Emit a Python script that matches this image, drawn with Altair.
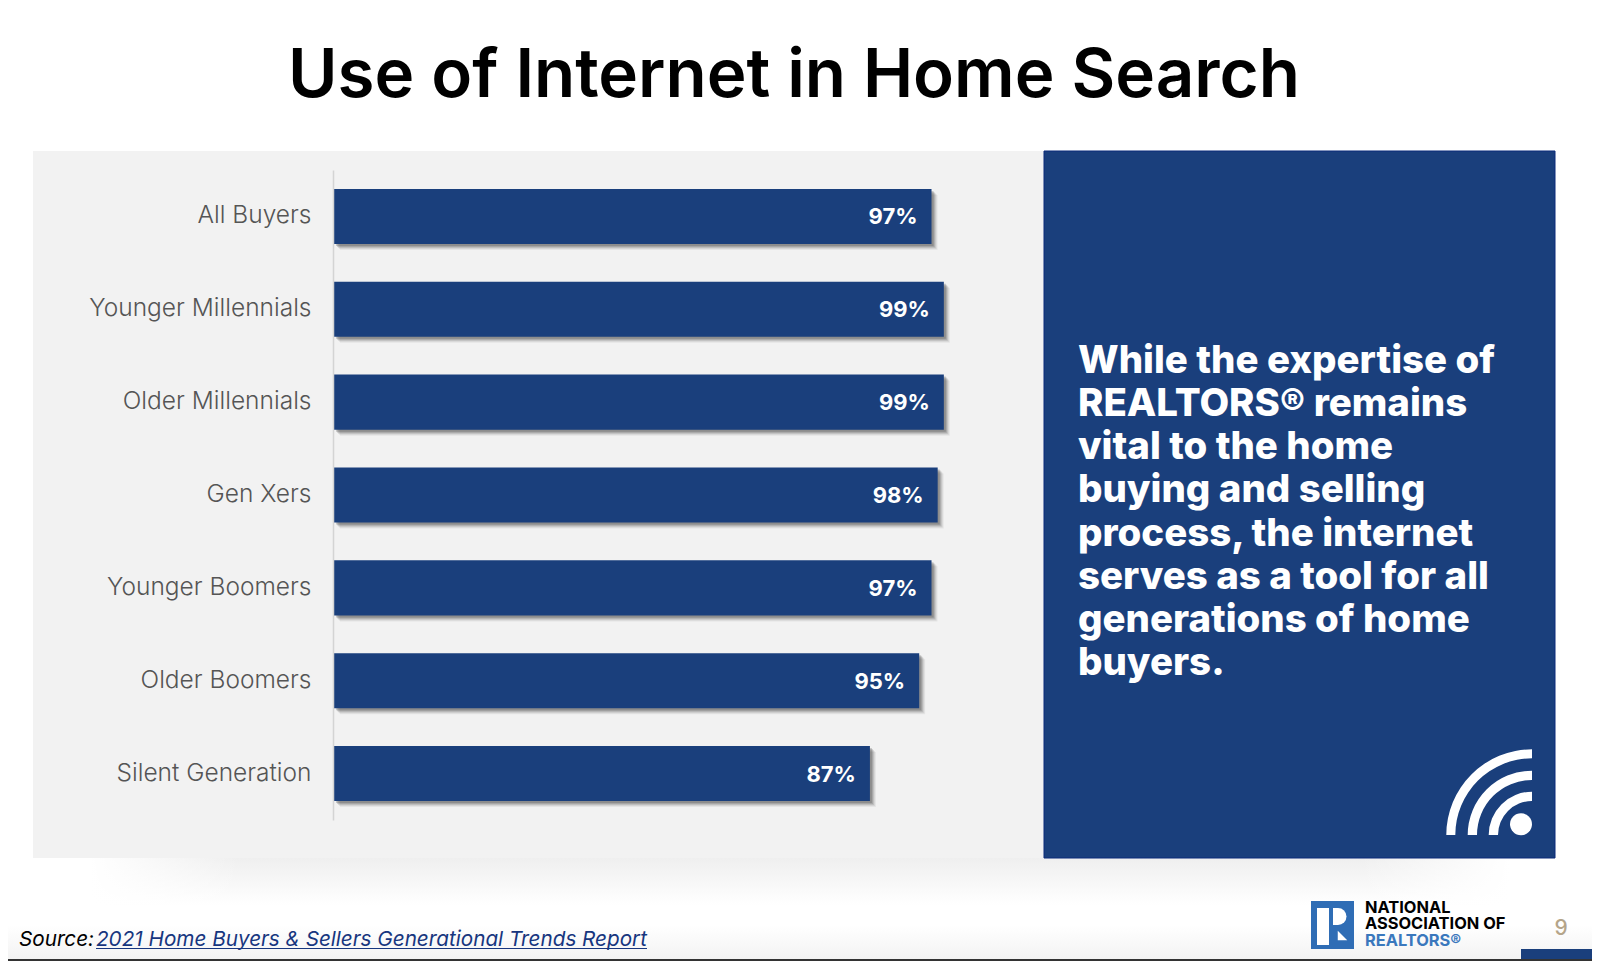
import math
import altair as alt
import pandas as pd

title_text = "Use of Internet in Home Search"
categories = ["All Buyers", "Younger Millennials", "Older Millennials", "Gen Xers",
              "Younger Boomers", "Older Boomers", "Silent Generation"]
values = [97, 99, 99, 98, 97, 95, 87]
panel_text = ("While the expertise of\nREALTORS® remains\nvital to the home\nbuying and selling\n"
              "process, the internet\nserves as a tool for all\ngenerations of home\nbuyers.")
source_label = "Source:"
source_link = "2021 Home Buyers & Sellers Generational Trends Report"
logo_lines = ["NATIONAL", "ASSOCIATION OF", "REALTORS®"]
page_number = "9"

NAVY = "#1A3F7C"
FONT = "Inter"
ONE = alt.Data(values=[{"k": 1}])
M = 8  # page margin

df = pd.DataFrame({"cat": categories, "value": values, "label": [f"{v}%" for v in values]})


def box(x0, y0, x1, y1, color, **kw):
    return alt.Chart(ONE).mark_rect(color=color, **kw).encode(
        x=alt.value(x0 - M), x2=alt.value(x1 - M), y=alt.value(y0 - M), y2=alt.value(y1 - M))


def label(x, y, text, size, color="#000000", weight=400, align="left", **kw):
    return alt.Chart(ONE).mark_text(
        font=FONT, fontSize=size, fontWeight=weight, color=color, align=align,
        baseline="alphabetic", text=text, **kw).encode(x=alt.value(x - M), y=alt.value(y - M))


def grad(stops, horizontal=False):
    return alt.Gradient(gradient="linear",
                        stops=[alt.GradientStop(color=c, offset=o) for o, c in stops],
                        x1=0, y1=0, x2=1 if horizontal else 0, y2=0 if horizontal else 1)


def ring(r_out, r_in):
    return alt.Chart(ONE).mark_arc(color="white", theta=1.5 * math.pi, theta2=2 * math.pi,
                                   radius=r_out, radius2=r_in).encode(
        x=alt.value(1532 - M), y=alt.value(835 - M))


x_scale = alt.Scale(domain=[0, 100], range=[326, 942])
y_scale = alt.Scale(domain=categories, range=[162, 812], paddingInner=0.407, paddingOuter=0.2035)
y_axis = alt.Axis(offset=-325, orient="left", ticks=False, domainColor="#D4D4D4",
                  domainWidth=1.5, labelFont=FONT, labelFontSize=24.5, labelColor="#555555",
                  labelFontWeight=300, labelPadding=22, labelLimit=400, zindex=1, grid=False,
                  title=None)
enc_x = alt.X("value:Q", scale=x_scale, axis=None)
enc_y = alt.Y("cat:N", scale=y_scale, sort=categories, axis=y_axis, title=None)

bars_base = alt.Chart(df)
layers = [
    # soft shade below the panels
    box(90, 858, 1510, 905, grad([(0, "#EFEFEF"), (1, "#FFFFFF")])),
    box(90, 858, 240, 905, grad([(0, "#FFFFFF"), (1, "#FFFFFF00")], True)),
    box(1360, 858, 1510, 905, grad([(0, "#FFFFFF00"), (1, "#FFFFFF")], True)),
    box(0, 925, 1592, 959, grad([(0, "#FFFFFF"), (1, "#F3F3F3")])),
    # panels
    box(33, 151, 1044, 858, "#F2F2F2"),
    box(1044, 151, 1555, 858, NAVY, stroke="#0B2A7A", strokeWidth=1),
    # bottom band
    box(0, 959, 1592, 961, "#333333"),
    box(1521, 949, 1592, 959, NAVY),
]

for off, op in [(6, 0.07), (5, 0.10), (4, 0.15), (3, 0.2), (2, 0.25)]:
    layers.append(bars_base.mark_bar(color="#444444", opacity=op, xOffset=off, x2Offset=off,
                                     yOffset=off, y2Offset=off).encode(x=enc_x, y=enc_y))

layers.append(bars_base.mark_bar(color=NAVY).encode(x=enc_x, y=enc_y))

layers.append(bars_base.mark_text(font=FONT, fontSize=22, fontWeight=700, color="white",
                                  align="right", dx=-14, dy=1, baseline="middle").encode(
    x=enc_x, y=enc_y, text="label:N"))

layers += [
    label(794, 97, title_text, 67.3, weight=600, align="center"),
    label(1078, 373, panel_text, 38.4, color="white", weight=800, lineBreak="\n", lineHeight=43.15),
    ring(85.7, 76.7), ring(64.3, 55), ring(43.3, 34),
    alt.Chart(ONE).mark_arc(color="white", theta=0, theta2=2 * math.pi, radius=11).encode(
        x=alt.value(1521 - M), y=alt.value(824.3 - M)),
    label(19, 946, source_label, 20.7, fontStyle="italic"),
    label(96, 946, source_link, 20.7, color="#17367F", fontStyle="italic"),
    box(96, 948, 647, 949, "#17367F"),
    # logo
    box(1311, 901, 1354, 949, "#2F6DB5"),
    box(1317, 908, 1329, 945, "#FFFFFF"),
    box(1333, 908, 1338, 925, "#FFFFFF"),
    alt.Chart(ONE).mark_arc(color="white", theta=0, theta2=math.pi, radius=8.5).encode(
        x=alt.value(1338 - M), y=alt.value(916.5 - M)),
    alt.Chart(ONE).mark_point(shape="M -1 -1 L 1 1 L -1 1 Z", size=90, filled=True,
                              color="white", opacity=1).encode(
        x=alt.value(1342.5 - M), y=alt.value(935.5 - M)),
    label(1365, 913, logo_lines[0], 16.4, weight=700),
    label(1365, 929, logo_lines[1], 16.4, weight=700),
    label(1365, 946, logo_lines[2], 16.4, color="#3A78BD", weight=700),
    label(1561, 935, page_number, 21, color="#B5A58A", weight=500, align="center"),
]

chart = alt.layer(*layers).properties(
    width=1584, height=953, padding=0, background="white",
    autosize=alt.AutoSizeParams(type="none")
).configure_view(stroke=None)

chart.save("out.html", embed_options={"renderer": "svg", "actions": False})
